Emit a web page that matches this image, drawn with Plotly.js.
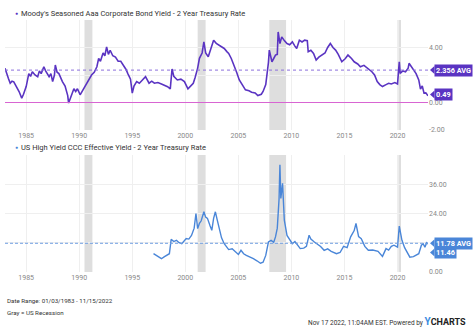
<!DOCTYPE html>
<html><head><meta charset="utf-8">
<script src="https://cdn.plot.ly/plotly-3.0.1.min.js"></script>
<style>body{margin:0;background:#fff}#c{width:474px;height:335px}</style>
</head><body><div id="c"></div>
<script>
// Series 1: Moody's Seasoned Aaa Corporate Bond Yield - 2 Year Treasury Rate
const aaaDates = ["1983-01-03","1983-02","1983-03","1983-05","1983-07","1983-09","1983-11","1984-02","1984-05","1984-08","1984-10","1985-01","1985-03","1985-04","1985-06","1985-08","1985-11","1986-02","1986-04","1986-06","1986-09","1986-11","1987-03","1987-05","1987-07","1987-09","1987-10","1987-12","1988-02","1988-04","1988-06","1988-09","1988-12","1989-01","1989-03","1989-05","1989-07","1989-09","1989-11","1990-02","1990-05","1990-08","1990-11","1991-03","1991-06","1991-09","1991-11","1992-01","1992-04","1992-06","1992-08","1992-10","1992-12","1993-03","1993-06","1993-09","1993-12","1994-03","1994-06","1994-08","1994-11","1995-01","1995-03","1995-06","1995-09","1995-12","1996-04","1996-08","1996-11","1997-02","1997-06","1997-10","1998-01","1998-05","1998-08","1998-10","1998-12","1999-04","1999-08","1999-12","2000-04","2000-07","2000-10","2000-12","2001-03","2001-05","2001-08","2001-10","2001-12","2002-03","2002-06","2002-09","2002-12","2003-03","2003-06","2003-09","2003-12","2004-02","2004-05","2004-08","2004-11","2005-02","2005-06","2005-09","2006-01","2006-04","2006-08","2006-11","2007-03","2007-05","2007-08","2007-09","2007-11","2007-12","2008-03","2008-05","2008-07","2008-09","2008-10","2008-12","2009-02","2009-05","2009-08","2009-11","2010-02","2010-05","2010-07","2010-10","2011-01","2011-04","2011-07","2011-08","2011-11","2012-02","2012-05","2012-08","2012-12","2013-03","2013-06","2013-09","2013-12","2014-03","2014-06","2014-10","2015-02","2015-05","2015-09","2015-12","2016-04","2016-07","2016-11","2017-03","2017-06","2017-08","2017-11","2018-02","2018-05","2018-08","2018-12","2019-03","2019-06","2019-10","2020-01","2020-03","2020-04","2020-07","2020-10","2021-01","2021-02","2021-05","2021-07","2021-10","2022-01","2022-03","2022-05","2022-07","2022-09","2022-11-15"];
const aaaValues = [2.49,2.3,2.0,1.75,1.4,1.55,1.5,1.16,0.8,0.32,0.6,1.16,1.9,2.1,1.9,2.24,2.0,1.88,2.3,2.1,2.6,2.3,1.88,2.1,1.52,2.0,2.73,2.2,2.1,1.8,1.52,1.2,0.5,-0.04,0.3,0.56,1.0,0.8,1.0,0.56,0.9,1.16,1.5,2.0,2.2,2.6,3.21,3.0,3.6,3.4,4.05,3.5,3.8,3.4,3.3,3.0,3.0,2.73,2.4,2.1,1.7,0.68,1.2,1.52,1.4,1.6,1.88,1.4,1.55,1.4,1.45,1.35,1.28,1.15,0.99,2.44,1.9,1.64,1.7,1.52,0.99,1.2,1.4,1.8,2.5,3.21,3.6,4.41,3.6,3.33,4.0,4.53,4.3,4.17,4.1,3.93,3.7,3.57,3.2,2.73,2.2,1.64,1.2,0.92,0.85,0.75,0.7,0.51,0.6,0.8,1.3,1.76,2.9,3.81,2.96,3.2,3.45,3.5,5.13,4.29,4.77,4.5,4.29,4.2,4.41,4.1,3.93,4.53,4.4,4.53,4.5,3.69,3.8,3.57,3.09,3.3,3.45,3.6,4.0,4.29,4.0,3.81,3.5,2.96,3.2,3.45,3.2,2.96,2.8,2.6,2.7,2.49,2.4,2.24,2.0,1.52,1.3,1.16,1.3,1.4,1.35,1.45,1.35,2.96,2.12,2.3,2.24,2.5,2.85,2.6,2.36,2.1,1.64,0.97,1.2,0.68,0.7,0.49];
const aaaAvg = 2.356;
const aaaLast = 0.49;

// Series 2: US High Yield CCC Effective Yield - 2 Year Treasury Rate
const cccDates = ["1997-01","1997-04","1997-07","1997-10","1998-01","1998-04","1998-07","1998-09","1998-12","1999-03","1999-06","1999-09","1999-12","2000-02","2000-05","2000-08","2000-11","2001-01","2001-03","2001-05","2001-07","2001-10","2001-12","2002-02","2002-05","2002-07","2002-09","2002-11","2003-01","2003-03","2003-06","2003-09","2003-12","2004-02","2004-06","2004-10","2005-01","2005-04","2005-07","2005-10","2006-02","2006-06","2006-10","2007-02","2007-05","2007-08","2007-11","2008-02","2008-05","2008-07","2008-09","2008-11","2008-12","2009-01","2009-03","2009-05","2009-08","2009-10","2010-02","2010-05","2010-08","2010-11","2011-03","2011-06","2011-09","2011-11","2012-03","2012-06","2012-10","2013-02","2013-06","2013-10","2014-04","2014-08","2014-12","2015-04","2015-08","2015-12","2016-02","2016-05","2016-08","2016-12","2017-04","2017-09","2018-03","2018-08","2018-12","2019-03","2019-06","2019-09","2020-01","2020-03","2020-06","2020-09","2020-12","2021-03","2021-07","2021-10","2022-01","2022-04","2022-06","2022-08","2022-10","2022-11-15"];
const cccValues = [7.5,6.8,6.0,5.45,6.2,6.8,7.5,13.4,12.5,13.0,12.0,11.6,12.8,13.7,13.5,15.0,18.0,24.0,17.8,20.0,21.0,24.7,22.5,22.0,19.0,17.1,22.0,24.7,21.5,18.3,14.0,11.6,10.0,9.2,9.5,8.2,7.2,8.9,7.5,6.8,6.2,5.45,4.6,3.6,4.0,6.8,12.3,13.0,12.2,14.4,18.0,30.0,44.0,30.2,36.4,21.3,15.0,13.7,11.6,12.5,11.0,9.6,9.8,10.5,15.1,13.5,12.3,11.5,10.5,8.9,9.5,8.5,7.5,8.0,10.5,10.0,14.4,17.0,19.9,14.5,13.7,10.5,8.9,9.0,8.5,6.4,9.6,9.0,10.5,11.0,10.2,18.8,13.0,10.0,8.0,6.1,6.3,6.8,7.5,11.0,11.6,10.2,12.0,11.46];
const cccAvg = 11.78;
const cccLast = 11.46;

// Recessions
const recStarts = ["1990-07-01","2001-03-01","2007-12-01","2020-02-01"];
const recEnds   = ["1991-03-31","2001-11-30","2009-06-30","2020-04-30"];

const xRange = ["1983-01-03","2022-11-15"];
const yTicks1 = [-2,0,2,4];
const yTickText1 = ["-2.00","0.00","","4.00"];
const yTicks2 = [0,12,24,36];
const yTickText2 = ["0.00","","24.00","36.00"];

const PURPLE = "#5a34c2";
const BLUE = "#4a86d8";
const FONT = "Roboto";
const plotW = 474 - 5 - 46;

const traces = [
  {x: aaaDates, y: aaaValues, type: "scatter", mode: "lines", xaxis: "x", yaxis: "y",
   line: {color: PURPLE, width: 1.6}, hoverinfo: "skip"},
  {x: cccDates, y: cccValues, type: "scatter", mode: "lines", xaxis: "x2", yaxis: "y2",
   line: {color: BLUE, width: 1.4}, hoverinfo: "skip"}
];

const shapes = [];
recStarts.forEach((s, i) => {
  ["y", "y2"].forEach((ya, k) => {
    shapes.push({type: "rect", xref: k ? "x2" : "x", yref: ya + " domain", x0: s, x1: recEnds[i], y0: 0, y1: 1,
      fillcolor: "#dedede", line: {width: 0}, layer: "below"});
  });
});
shapes.push({type: "line", xref: "paper", yref: "y", x0: 0, x1: 1, y0: 0, y1: 0, line: {color: "#d865d2", width: 1}});
shapes.push({type: "line", xref: "paper", yref: "y", x0: 0, x1: 1, y0: aaaAvg, y1: aaaAvg, line: {color: "#8b6fdc", width: 1, dash: "dot"}});
shapes.push({type: "line", xref: "paper", yref: "y2", x0: 0, x1: 1, y0: cccAvg, y1: cccAvg, line: {color: "#6f9fe2", width: 1, dash: "3px,2px"}});

// tag pointers
function tip(yref, yv, pxPerUnit, color) {
  const h = 4 / pxPerUnit;
  const xa = 1 + 2 / plotW, xb = 1 + 6.5 / plotW;
  shapes.push({type: "path", xref: "paper", yref: yref, fillcolor: color, line: {width: 0},
    path: `M ${xa} ${yv} L ${xb} ${yv + h} L ${xb} ${yv - h} Z`});
}
const px1 = 110 / 8, px2 = 116.5 / 48;
tip("y", aaaAvg, px1, PURPLE);
tip("y", aaaLast + 0.1, px1, PURPLE);
tip("y2", cccAvg, px2, BLUE);
tip("y2", cccLast - 3.5, px2, BLUE);

function tag(yref, yv, text, color) {
  return {xref: "paper", yref: yref, x: 1 + 6 / plotW, y: yv, xanchor: "left", yanchor: "middle",
    text: "<b>" + text + "</b>", showarrow: false, bgcolor: color, borderpad: 1,
    font: {family: FONT, size: 7.3, color: "#fff"}};
}
const ann = [
  tag("y", aaaAvg, "2.356 AVG", PURPLE),
  tag("y", aaaLast + 0.1, aaaLast.toFixed(2), PURPLE),
  tag("y2", cccAvg, "11.78 AVG", BLUE),
  tag("y2", cccLast - 3.5, cccLast.toFixed(2), BLUE)
];
function txt(x, y, text, size, color, anchor) {
  return {xref: "paper", yref: "paper", x: (x - 5) / plotW, y: (335 - 63 - y) / 252, xanchor: anchor || "left", yanchor: "middle",
    text: text, showarrow: false, font: {family: FONT, size: size, color: color}};
}
ann.push(txt(12.5, 13.3, "●", 5, PURPLE));
ann.push(txt(19, 13.3, "Moody's Seasoned Aaa Corporate Bond Yield - 2 Year Treasury Rate", 7.5, "#333"));
ann.push(txt(12.5, 147.3, "●", 5, BLUE));
ann.push(txt(19, 147.3, "US High Yield CCC Effective Yield - 2 Year Treasury Rate", 7.5, "#333"));
ann.push(txt(5, 301, "Date Range: 01/03/1983 - 11/15/2022", 6.2, "#333"));
ann.push(txt(5, 313.3, "Gray = US Recession", 6.2, "#333"));
ann.push(txt(468, 321.7, "Nov 17 2022, 11:04AM EST. Powered by <b><span style='color:#3c8be0;font-size:10px'>Y</span><span style='font-size:9px;color:#222'>CHARTS</span></b>", 6.5, "#333", "right"));

const xBase = {type: "date", range: xRange, showgrid: true, gridcolor: "#efefef", gridwidth: 1,
  tickformat: "%Y", dtick: "M60", tick0: "1985-01-01", ticks: "", zeroline: false, showline: false,
  tickfont: {family: FONT, size: 7, color: "#888"}, fixedrange: true};
const yBase = {side: "right", showgrid: true, gridcolor: "#efefef", zeroline: false, ticks: "",
  tickfont: {family: FONT, size: 7, color: "#888"}, showline: false};

const layout = {
  width: 474, height: 335,
  margin: {l: 5, r: 46, t: 20, b: 63},
  paper_bgcolor: "#fff", plot_bgcolor: "#fff",
  showlegend: false,
  xaxis: Object.assign({}, xBase, {anchor: "y"}),
  xaxis2: Object.assign({}, xBase, {anchor: "y2", matches: "x"}),
  yaxis: Object.assign({}, yBase, {domain: [0.5635, 1], range: [-2, 6], tickvals: yTicks1, ticktext: yTickText1, anchor: "x"}),
  yaxis2: Object.assign({}, yBase, {domain: [0, 0.4643], range: [0, 48], tickvals: yTicks2, ticktext: yTickText2, anchor: "x2"}),
  shapes: shapes,
  annotations: ann
};
Plotly.newPlot("c", traces, layout, {staticPlot: true, displayModeBar: false});
</script></body></html>
